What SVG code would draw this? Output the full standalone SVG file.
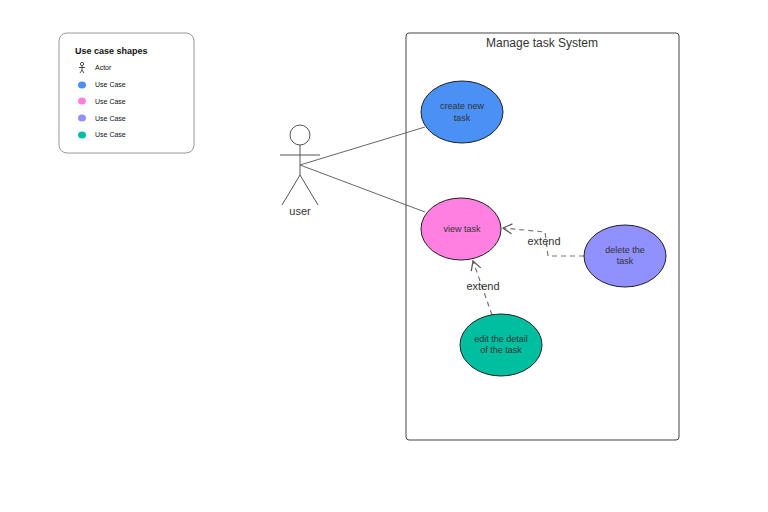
<svg xmlns="http://www.w3.org/2000/svg" width="768" height="512" viewBox="0 0 768 512">
<defs>
<style>
text{font-family:"Liberation Sans",Arial,sans-serif;fill:#333}
.uc{stroke:#222;stroke-width:1}
.ut{font-size:9px;text-anchor:middle}
.ln{stroke:#666;stroke-width:1;fill:none}
.dash{stroke:#777;stroke-width:1.2;fill:none;stroke-dasharray:5,4}
.lg{font-size:7px;fill:#111}
</style>
<marker id="open" markerWidth="12" markerHeight="12" refX="10" refY="6" orient="auto" markerUnits="userSpaceOnUse">
<path d="M1,1 L10,6 L1,11" fill="none" stroke="#555" stroke-width="1.2"/>
</marker>
</defs>
<rect width="768" height="512" fill="#fff"/>
<g id="legend">
<rect x="59" y="33" width="135" height="120" rx="8" fill="#fff" stroke="#999"/>
<text x="75" y="54" font-size="9" font-weight="bold" style="fill:#111">Use case shapes</text>
<g stroke="#222" stroke-width="0.8" fill="none"><circle cx="82" cy="64" r="1.6"/><path d="M82,66 V70 M79,67.5 H85 M82,70 L80,73 M82,70 L84,73"/></g>
<text x="95" y="70" class="lg">Actor</text>
<ellipse cx="82" cy="85" rx="4" ry="3.5" fill="#4a90f5"/><text x="95" y="87" class="lg">Use Case</text>
<ellipse cx="82" cy="101" rx="4" ry="3.5" fill="#ff80e0"/><text x="95" y="104" class="lg">Use Case</text>
<ellipse cx="82" cy="118" rx="4" ry="3.5" fill="#9090ff"/><text x="95" y="121" class="lg">Use Case</text>
<ellipse cx="82" cy="135" rx="4" ry="3.5" fill="#00bfa0"/><text x="95" y="137" class="lg">Use Case</text>
</g>
<g id="system">
<rect x="406" y="33" width="273" height="407" rx="3" fill="none" stroke="#444"/>
<text x="542" y="47" font-size="12" text-anchor="middle">Manage task System</text>
</g>
<g id="user">
<g stroke="#555" stroke-width="1" fill="none">
<circle cx="300" cy="135" r="10"/>
<path d="M300,145 V175 M280,155 H320 M300,175 L282,205 M300,175 L318,205"/>
</g>
<text x="300" y="215" font-size="11" text-anchor="middle">user</text>
</g>
<g id="connectors">
<line class="ln" x1="300" y1="165" x2="425" y2="127"/>
<line class="ln" x1="300" y1="165" x2="425" y2="212"/>
<path class="dash" d="M584,256 H548 L545,232 L503,228" marker-end="url(#open)"/>
<text x="544" y="245" font-size="11" text-anchor="middle">extend</text>
<path class="dash" d="M492,315 L473,261" marker-end="url(#open)"/>
<text x="483" y="290" font-size="11" text-anchor="middle">extend</text>
</g>
<g id="create">
<ellipse class="uc" cx="462" cy="112" rx="41" ry="31" fill="#4a90f5"/>
<text class="ut" x="462" y="109">create new</text><text class="ut" x="462" y="121">task</text>
</g>
<g id="view">
<ellipse class="uc" cx="461" cy="229" rx="40" ry="31" fill="#ff80e0"/>
<text class="ut" x="462" y="232">view task</text>
</g>
<g id="delete">
<ellipse class="uc" cx="625" cy="256" rx="41" ry="31" fill="#9090ff"/>
<text class="ut" x="625" y="253">delete the</text><text class="ut" x="625" y="264">task</text>
</g>
<g id="edit">
<ellipse class="uc" cx="501" cy="345" rx="41" ry="31" fill="#00bfa0"/>
<text class="ut" x="501" y="342">edit the detail</text><text class="ut" x="501" y="353">of the task</text>
</g>
</svg>
